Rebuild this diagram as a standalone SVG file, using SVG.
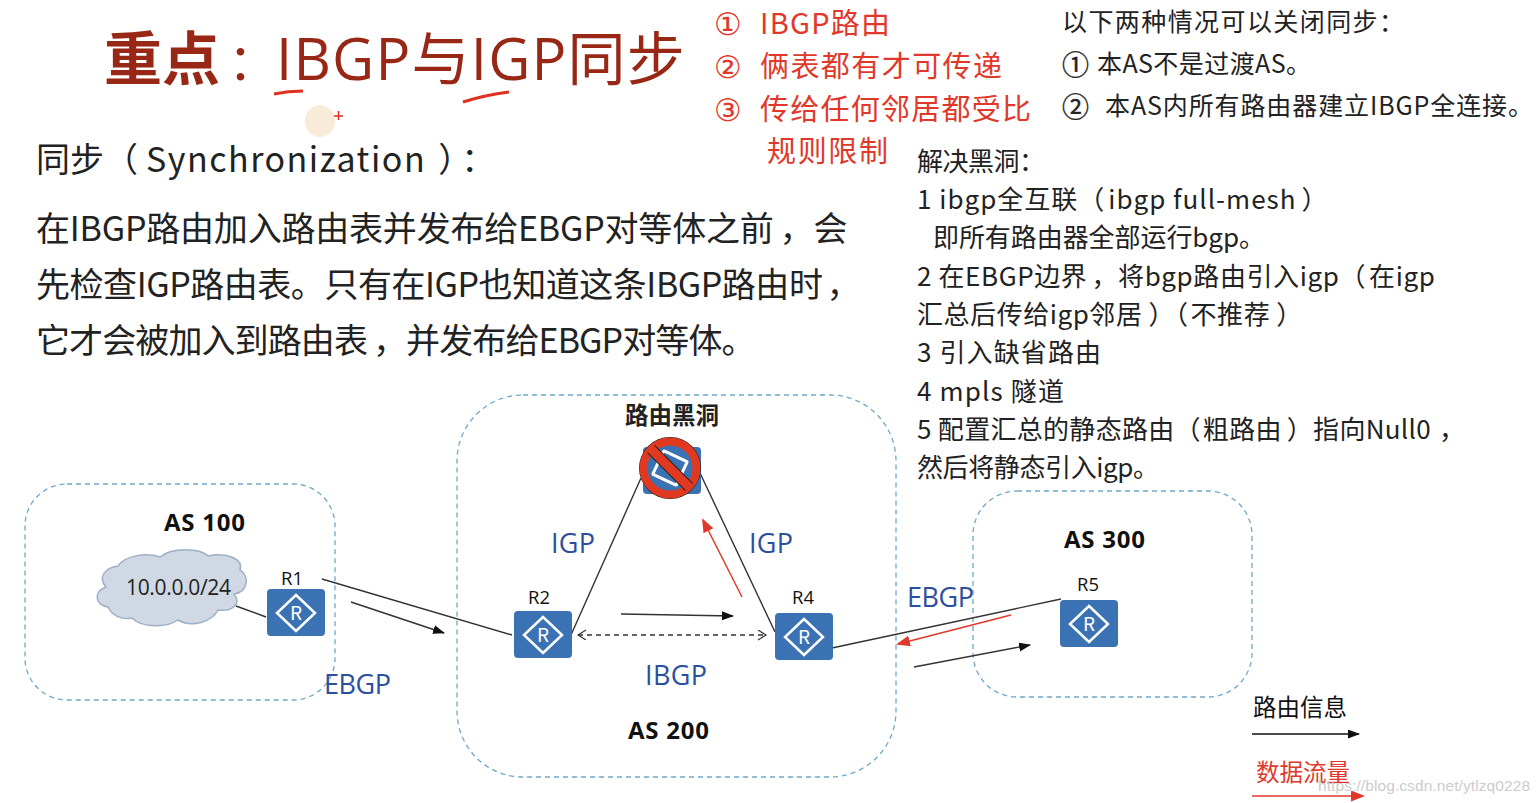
<svg xmlns="http://www.w3.org/2000/svg" width="1540" height="803" viewBox="0 0 1540 803">
<style>
text{font-family:"Noto Sans CJK SC","Noto Sans",sans-serif;white-space:pre}
.t{font-family:"Open Sans","Noto Sans CJK SC",sans-serif}
.title{font-size:58px;fill:#982716}
.red{font-size:29px;fill:#e0392b}
.num{font-size:31px;fill:#e0392b;font-family:"DejaVu Sans",sans-serif}
.b{font-size:34px;fill:#222}
.s{font-size:26px;fill:#222}
.n{font-size:25px;fill:#222}
.n2{font-size:27px;fill:#222;stroke:#222;stroke-width:.4}
.lab{font-size:27px;fill:#2b4f9e}
.as{font-size:24px;font-weight:700;fill:#111}
.r{font-size:18.500px;fill:#111}
.box{fill:none;stroke:#6fa8c9;stroke-width:1.3;stroke-dasharray:5 4}
.ln{stroke:#333;stroke-width:1.4;fill:none}
.ic{fill:#3b72b4}
.dm{fill:none;stroke:#fff;stroke-width:2.500}
</style>
<defs>
<marker id="ak" markerWidth="13" markerHeight="10" refX="11" refY="4.500" orient="auto" markerUnits="userSpaceOnUse"><path d="M0 0L12 4.500L0 9z" fill="#111"/></marker>
<marker id="ar" markerWidth="15" markerHeight="12" refX="12" refY="5.500" orient="auto" markerUnits="userSpaceOnUse"><path d="M0 0L14 5.500L0 11z" fill="#e0392b"/></marker>
<marker id="op" markerWidth="12" markerHeight="12" refX="9" refY="5" orient="auto-start-reverse" markerUnits="userSpaceOnUse"><path d="M1 0L9 5L1 10" fill="none" stroke="#333" stroke-width="1.2"/></marker>
<g id="rt"><rect x="-29" y="-24" width="58" height="47" rx="4" class="ic"/><path d="M0 -18L19 0L0 18L-19 0z" class="dm"/><text x="0" y="7" text-anchor="middle" style="font-size:19px;fill:#fff">R</text></g>
</defs>
<rect width="1540" height="803" fill="#fff"/>
<g id="headings">
<text y="80" class="title"><tspan x="104" font-weight="700">重点</tspan><tspan x="228" style="font-size:50px">：</tspan><tspan x="276" letter-spacing="1.200" style="font-family:'Open Sans','Noto Sans CJK SC',sans-serif">IBGP与IGP同步</tspan></text>
<path d="M274 94Q288 91 303 91M463 102Q485 95 509 92" fill="none" stroke="#e03020" stroke-width="3"/>
<ellipse cx="320" cy="121" rx="15" ry="16" fill="#f8ecd8"/>
<path d="M334 116h9M338.500 111v9" stroke="#e03020" stroke-width="1.500"/>
<text x="36" y="172" class="b">同步（<tspan dx="8" letter-spacing="1.500">Synchronization</tspan><tspan dx="12">）</tspan><tspan dx="6">：</tspan></text>
<text x="36" y="241" class="b" letter-spacing="-.2">在IBGP路由加入路由表并发布给EBGP对等体之前<tspan dx="6">，</tspan>会</text>
<text x="36" y="297" class="b" letter-spacing="-.45">先检查IGP路由表。只有在IGP也知道这条IBGP路由时<tspan dx="4">，</tspan></text>
<text x="36" y="353" class="b" letter-spacing="-.9">它才会被加入到路由表<tspan dx="6">，</tspan>并发布给EBGP对等体。</text>
</g>
<g id="red-notes">
<text x="714" y="35" class="num">①</text><text x="760" y="34" class="red" textLength="130">IBGP路由</text>
<text x="714" y="78" class="num">②</text><text x="760" y="77" class="red" textLength="242">俩表都有才可传递</text>
<text x="714" y="121" class="num">③</text><text x="760" y="120" class="red" textLength="271">传给任何邻居都受比</text>
<text x="767" y="162" class="red" textLength="121">规则限制</text>
</g>
<g id="side-notes">
<text x="1062" y="31" class="n" textLength="342">以下两种情况可以关闭同步：</text>
<text x="1062" y="75" class="n2">①</text><text x="1097" y="73" class="n" textLength="214">本AS不是过渡AS。</text>
<text x="1062" y="117" class="n2">②</text><text x="1105" y="115" class="n" textLength="428">本AS内所有路由器建立IBGP全连接。</text>
<text x="917" y="171" class="s" textLength="128">解决黑洞：</text>
<text x="917" y="209" class="s" letter-spacing="1">1 ibgp全互联（<tspan dx="3">ibgp full-mesh</tspan><tspan dx="5">）</tspan></text>
<text x="933" y="247" class="s" textLength="332">即所有路由器全部运行bgp。</text>
<text x="917" y="286" class="s" letter-spacing=".6">2 在EBGP边界<tspan dx="4">，</tspan>将bgp路由引入igp（<tspan dx="3">在igp</tspan></text>
<text x="917" y="324" class="s" letter-spacing=".55">汇总后传给igp邻居<tspan dx="6">）</tspan>（<tspan dx="2">不推荐</tspan><tspan dx="6">）</tspan></text>
<text x="917" y="362" class="s" textLength="184">3 引入缺省路由</text>
<text x="917" y="401" class="s" textLength="147">4 mpls 隧道</text>
<text x="917" y="439" class="s" letter-spacing=".3">5 配置汇总的静态路由（<tspan dx="2">粗路由</tspan><tspan dx="5">）</tspan>指向Null0<tspan dx="8">，</tspan></text>
<text x="917" y="477" class="s" textLength="242">然后将静态引入igp。</text>
</g>
<g id="as100"><rect x="25" y="484" width="310" height="216" rx="42" class="box"/><text x="164" y="531" class="as t" textLength="81">AS 100</text></g>
<g id="as200"><rect x="457" y="395" width="439" height="382" rx="66" class="box"/><text x="628" y="739" class="as t" textLength="81">AS 200</text></g>
<g id="as300"><rect x="973" y="491" width="279" height="206" rx="44" class="box"/><text x="1064" y="548" class="as t" textLength="81">AS 300</text></g>
<g id="connectors">
<path class="ln" d="M236 606L266 617M322 579L512 635M571 635L641 478M700 473L775 632M832 648L1061 599"/>
<path class="ln" d="M351 602L444 633" marker-end="url(#ak)"/>
<path class="ln" d="M621 614L733 616" marker-end="url(#ak)"/>
<path class="ln" d="M914 667L1030 645" marker-end="url(#ak)"/>
<path class="ln" d="M578 635H766" stroke-dasharray="5 4" marker-start="url(#op)" marker-end="url(#op)"/>
<path d="M742 597L703 520" stroke="#e0392b" stroke-width="1.500" fill="none" marker-end="url(#ar)"/>
<path d="M1011 615L898 644" stroke="#e0392b" stroke-width="1.500" fill="none" marker-end="url(#ar)"/>
</g>
<g id="cloud">
<path d="M108 607C96 606 92 592 106 587C98 578 104 568 118 566C124 556 146 552 160 557C172 547 200 548 208 556C224 552 244 558 240 570C250 576 248 592 234 594C242 604 232 612 218 610C212 622 192 628 178 620C166 628 142 628 132 618C122 620 112 616 108 607z" fill="#cfd8e3" stroke="#9fb0c4" stroke-width="1.500"/>
<text x="126" y="595" style="font-size:21px;fill:#222" class="t" textLength="105">10.0.0.0/24</text>
</g>
<g id="R1"><use href="#rt" x="296" y="613"/><text x="281" y="585" class="r t">R1</text></g>
<g id="R2"><use href="#rt" x="543" y="635"/><text x="528" y="604" class="r t">R2</text></g>
<g id="R4"><use href="#rt" x="804" y="637"/><text x="792" y="604" class="r t">R4</text></g>
<g id="R5"><use href="#rt" x="1089" y="624"/><text x="1077" y="591" class="r t">R5</text></g>
<g id="R3">
<rect x="643" y="447" width="58" height="47" rx="4" class="ic"/>
<circle cx="670" cy="468" r="31" fill="#222"/>
<circle cx="670" cy="468" r="26.500" fill="#3b72b4" stroke="#e0391f" stroke-width="8"/>
<rect x="657" y="455" width="26" height="26" rx="1" transform="rotate(25 670 468)" fill="none" stroke="#fff" stroke-width="3"/>
<path d="M651 449L689 487" stroke="#222" stroke-width="11"/>
<path d="M650 448L690 488" stroke="#e0391f" stroke-width="9"/>
</g>
<g id="labels">
<text x="625" y="424" style="font-size:23.500px;font-weight:700;fill:#222">路由黑洞</text>
<text x="551" y="553" class="lab t" textLength="44">IGP</text>
<text x="749" y="553" class="lab t" textLength="44">IGP</text>
<text x="645" y="685" class="lab t" textLength="62">IBGP</text>
<text x="324" y="694" class="lab t" textLength="67">EBGP</text>
<text x="907" y="607" class="lab t" textLength="67">EBGP</text>
</g>
<g id="legend">
<text x="1253" y="716" style="font-size:23.500px;fill:#111">路由信息</text>
<path d="M1252 734H1359" stroke="#111" stroke-width="1.400" marker-end="url(#ak)"/>
<text x="1256" y="781" style="font-size:23.500px;fill:#e0392b">数据流量</text>
<path d="M1252 796H1363" stroke="#e0392b" stroke-width="1.500" marker-end="url(#ar)"/>
<text x="1318" y="791" style="font-size:15.500px;font-family:'Liberation Sans',sans-serif;fill:#ccc" textLength="212">https://blog.csdn.net/ytlzq0228</text>
</g>
</svg>
